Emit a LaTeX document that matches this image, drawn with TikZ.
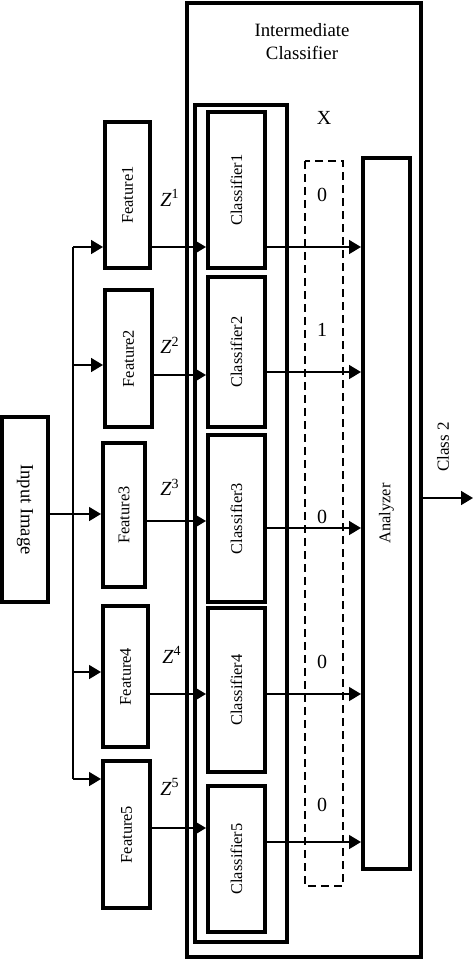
\documentclass[tikz,border=0pt]{standalone}
\usepackage{graphicx}
\usepackage{fontspec}
\setmainfont{Liberation Serif}
\usetikzlibrary{arrows.meta}
\tikzset{
  block/.style={draw, line width=2pt, inner sep=0pt, font=\fontsize{8.2}{10}\selectfont},
  arr/.style={line width=0.8pt, -{Triangle[length=6pt,width=7pt]}},
  link/.style={line width=0.8pt},
  bit/.style={font=\fontsize{10}{12}\selectfont}
}
\begin{document}
\begin{tikzpicture}[x=0.5pt,y=-0.5pt]
\useasboundingbox (0,0) rectangle (474,959);
% outer box
\node[draw, line width=2pt, minimum width=117pt, minimum height=477pt] (ic) at (303.5,479.5) {};
\node[align=center, font=\fontsize{9.4}{11.5}\selectfont] at (302,42) {Intermediate\\Classifier};
% group of classifiers
\draw[line width=2pt] (195,105) rectangle (287,942);

% input image
\node[block, minimum width=23pt, minimum height=92.5pt, font=\fontsize{9.3}{11}\selectfont] (in) at (25,509.5) {\rotatebox{-90}{Input Image}};

% features
\node[block, minimum width=22.5pt, minimum height=73pt] (f1) at (127.5,195) {\rotatebox{90}{Feature1}};
\node[block, minimum width=23.5pt, minimum height=68.5pt] (f2) at (128.5,358.5) {\rotatebox{90}{Feature2}};
\node[block, minimum width=21pt, minimum height=72pt] (f3) at (124,515) {\rotatebox{90}{Feature3}};
\node[block, minimum width=22.5pt, minimum height=70.5pt] (f4) at (125.5,676.5) {\rotatebox{90}{Feature4}};
\node[block, minimum width=23.5pt, minimum height=73.5pt] (f5) at (126.5,834.5) {\rotatebox{90}{Feature5}};

% classifiers
\node[block, minimum width=28.5pt, minimum height=78pt] (c1) at (236.5,190) {\rotatebox{90}{Classifier1}};
\node[block, minimum width=28.5pt, minimum height=75pt] (c2) at (236.5,352) {\rotatebox{90}{Classifier2}};
\node[block, minimum width=28.5pt, minimum height=83.5pt] (c3) at (236.5,518.5) {\rotatebox{90}{Classifier3}};
\node[block, minimum width=28.5pt, minimum height=82pt] (c4) at (236.5,690) {\rotatebox{90}{Classifier4}};
\node[block, minimum width=28.5pt, minimum height=73pt] (c5) at (236.5,859) {\rotatebox{90}{Classifier5}};

% vector X
\draw[dash pattern=on 4pt off 2.5pt, line width=0.6pt] (305,161) rectangle (343,886);
\node[bit] at (324,118) {X};
\node[bit] at (322,195) {0};
\node[bit] at (322,330) {1};
\node[bit] at (322,517) {0};
\node[bit] at (322,662) {0};
\node[bit] at (322,805) {0};

% analyzer
\node[block, minimum width=23.5pt, minimum height=355.5pt] (an) at (386.5,513.5) {\rotatebox{90}{Analyzer}};

% bus to features
\coordinate (b1) at (73,247);
\coordinate (b2) at (73,365);
\coordinate (b3) at (73,514);
\coordinate (b4) at (73,672);
\coordinate (b5) at (73,779);
\draw[link] (b1) -- (b5);
\draw[link] (in.east |- b3) -- (b3);
\foreach \i in {1,...,5}
  \draw[arr] (b\i) -- (b\i -| f\i.west);

% features to classifiers
\foreach \i/\y in {1/247,2/375,3/521,4/694,5/828}
  \draw[arr] (f\i.east |- 0,\y) -- (c\i.west |- 0,\y);
\node[bit] at (170,198) {\textit{Z}\textsuperscript{1}};
\node[bit] at (170,345) {\textit{Z}\textsuperscript{2}};
\node[bit] at (170,487) {\textit{Z}\textsuperscript{3}};
\node[bit] at (172,655) {\textit{Z}\textsuperscript{4}};
\node[bit] at (170,787) {\textit{Z}\textsuperscript{5}};

% classifiers to analyzer
\foreach \i/\y in {1/247,2/372,3/528,4/694,5/842}
  \draw[arr] (c\i.east |- 0,\y) -- (an.west |- 0,\y);

% output
\coordinate (out) at (473,498);
\draw[arr] (ic.east |- out) -- (out);
\node[rotate=90, font=\fontsize{8.5}{10}\selectfont] at (443,447) {Class 2};
\end{tikzpicture}
\end{document}
